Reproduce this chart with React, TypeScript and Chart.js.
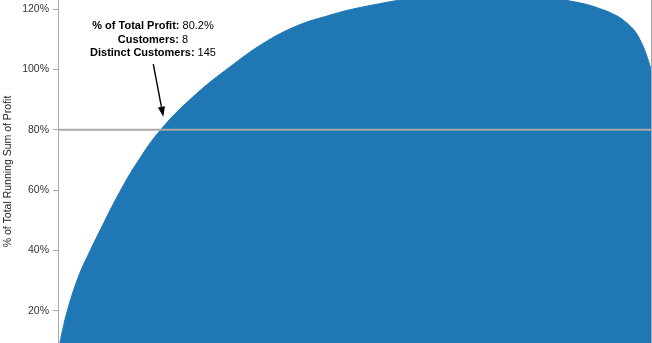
import React, { useEffect, useRef } from 'react';
import { Chart, registerables } from 'chart.js';

Chart.register(...registerables);

// Customer rank (sorted by profit, descending) and running % of total profit
const customerRank = [
  1, 2, 3, 4, 12, 28, 45, 56, 82, 110, 145, 194, 241, 287, 334, 381, 409, 455,
  479, 507, 549, 605, 661, 696, 718, 735, 749, 761, 773, 784, 793, 803, 810, 813,
  818, 822, 825, 828, 830,
];
const runningPct = [
  7.4, 8.7, 9.9, 11, 19.2, 31, 40, 45.3, 57.5, 68.9, 80.4, 92, 100.9, 108.6, 114.4, 118, 119.8, 122,
  123, 124, 124.6, 124.9, 124.5, 123.5, 122.6, 121.8, 120.9, 119.9, 118.8, 117.5, 116, 113.9, 111.8, 110.6,
  108.2, 105.9, 103.9, 101.6, 100,
];
const totalCustomers = 830;
const yTicks = [20, 40, 60, 80, 100, 120];
const yMin = 9.4;
const yMax = 123;
const targetPct = 80;
const annotPct = 80.2;
const annotCustomers = 8;
const annotDistinct = 145;
const yTitle = '% of Total Running Sum of Profit';

const FONT = '"Liberation Sans", Arial, sans-serif';

const annotationPlugin = {
  id: 'paretoAnnotation',
  afterDraw(chart: any) {
    const { ctx, chartArea, scales } = chart;
    const xs = scales.x;
    const ys = scales.y;
    ctx.save();
    // right border of pane
    ctx.strokeStyle = '#aaaaaa';
    ctx.lineWidth = 1;
    ctx.beginPath();
    ctx.moveTo(chartArea.right + 0.5, chartArea.top);
    ctx.lineTo(chartArea.right + 0.5, chartArea.bottom);
    ctx.stroke();

    const ax = xs.getPixelForValue(annotDistinct);
    const ay = ys.getPixelForValue(annotPct);
    const lines: [string, string][] = [
      ['% of Total Profit:', ` ${annotPct}%`],
      ['Customers:', ` ${annotCustomers}`],
      ['Distinct Customers:', ` ${annotDistinct}`],
    ];
    const cx = ax - 8.6;
    const baseY = ay - 100;
    const bold = `bold 11px ${FONT}`;
    const reg = `11px ${FONT}`;
    ctx.fillStyle = '#000';
    ctx.textAlign = 'left';
    ctx.textBaseline = 'alphabetic';
    lines.forEach(([b, r], i) => {
      ctx.font = bold;
      const wb = ctx.measureText(b).width;
      ctx.font = reg;
      const wr = ctx.measureText(r).width;
      const start = cx - (wb + wr) / 2;
      const yy = baseY + i * 13.5;
      ctx.font = bold;
      ctx.fillText(b, start, yy);
      ctx.font = reg;
      ctx.fillText(r, start + wb, yy);
    });

    // arrow
    const tx = ax - 8.3;
    const ty = ay - 65;
    const hx = ax + 1.7;
    const hy = ay - 12.5;
    const ang = Math.atan2(hy - ty, hx - tx);
    const headLen = 10;
    const headW = 3.6;
    const bx = hx - headLen * Math.cos(ang);
    const by = hy - headLen * Math.sin(ang);
    ctx.strokeStyle = '#000';
    ctx.lineWidth = 1.4;
    ctx.beginPath();
    ctx.moveTo(tx, ty);
    ctx.lineTo(bx, by);
    ctx.stroke();
    ctx.fillStyle = '#000';
    ctx.beginPath();
    ctx.moveTo(hx, hy);
    ctx.lineTo(bx + headW * Math.sin(ang), by - headW * Math.cos(ang));
    ctx.lineTo(bx - headW * Math.sin(ang), by + headW * Math.cos(ang));
    ctx.closePath();
    ctx.fill();
    ctx.restore();
  },
};

export default function App() {
  const ref = useRef<HTMLCanvasElement | null>(null);

  useEffect(() => {
    if (!ref.current) return;
    const areaData = customerRank.map((r, i) => ({ x: r, y: runningPct[i] }));
    const targetData = [
      { x: 0, y: targetPct },
      { x: totalCustomers, y: targetPct },
    ];
    const chart = new Chart(ref.current, {
      type: 'line',
      data: {
        datasets: [
          {
            label: 'Target',
            data: targetData,
            borderColor: '#a9a9a9',
            borderWidth: 2,
            pointRadius: 0,
            fill: false,
            order: 0,
          },
          {
            label: '% of Total Running Sum of Profit',
            data: areaData,
            borderColor: '#1f77b4',
            backgroundColor: '#1f77b4',
            borderWidth: 1,
            pointRadius: 0,
            fill: 'start',
            tension: 0.4,
            order: 1,
          },
        ],
      },
      options: {
        animation: false,
        responsive: false,
        layout: { padding: { left: 0, right: 1, top: 0, bottom: 0 } },
        plugins: {
          legend: { display: false },
          tooltip: { enabled: false },
        },
        scales: {
          x: {
            type: 'linear',
            display: false,
            min: 0,
            max: totalCustomers,
          },
          y: {
            type: 'linear',
            min: yMin,
            max: yMax,
            afterBuildTicks: (scale: any) => {
              scale.ticks = yTicks.map((v) => ({ value: v }));
            },
            afterFit: (scale: any) => {
              scale.width = 58;
              scale.paddingTop = 0;
              scale.paddingBottom = 0;
            },
            grid: {
              display: true,
              drawOnChartArea: false,
              drawTicks: true,
              tickLength: 5,
              color: '#aaaaaa',
            },
            border: { display: true, color: '#aaaaaa', width: 1 },
            ticks: {
              padding: 4,
              color: '#333333',
              font: { family: FONT, size: 10.5 },
              callback: (v: any) => `${v}%`,
            },
            title: {
              display: true,
              text: yTitle,
              color: '#222222',
              font: { family: FONT, size: 10.5 },
              padding: { top: 2, bottom: 2 },
            },
          },
        },
      },
      plugins: [annotationPlugin],
    });
    return () => chart.destroy();
  }, []);

  return (
    <div style={{ position: 'fixed', left: 0, top: 0, width: 652, height: 343, background: '#fff' }}>
      <canvas ref={ref} width={652} height={343} style={{ display: 'block' }} />
    </div>
  );
}
